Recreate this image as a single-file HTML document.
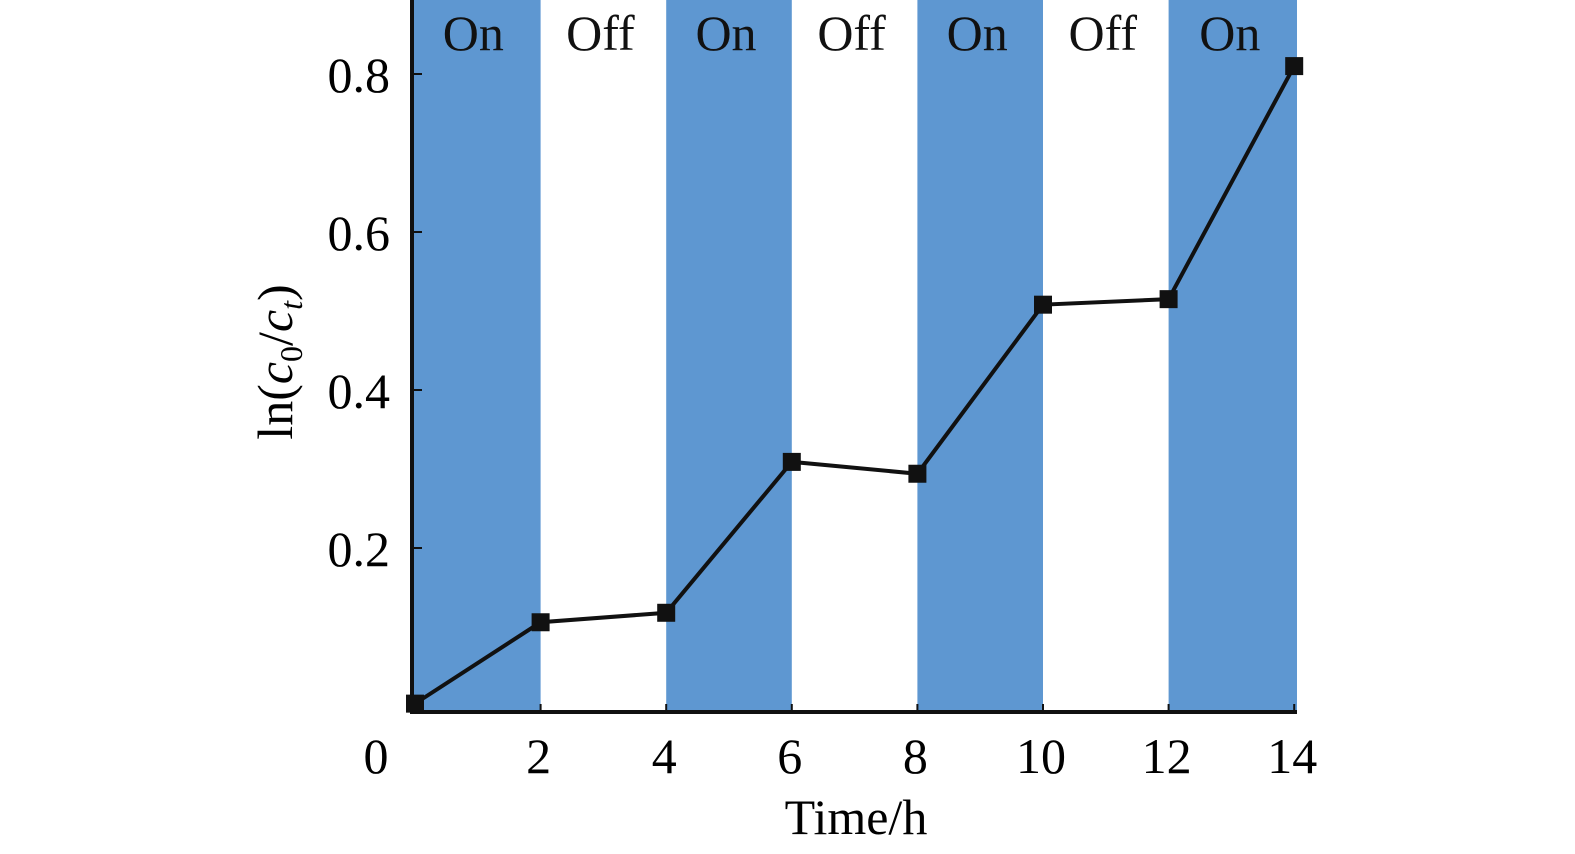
<!DOCTYPE html>
<html><head><meta charset="utf-8"><style>
html,body{margin:0;padding:0;background:#fff;}
svg{display:block;font-family:"Liberation Serif",serif;}
</style></head><body>
<svg id="chart" width="1575" height="854">
<g id="bands"></g>
<g id="axes"></g>
<g id="series"></g>
<text x="292" y="362" font-size="50" text-anchor="middle" transform="rotate(-90 292 362)">ln(<tspan font-style="italic">c</tspan><tspan font-size="32" dy="10">0</tspan><tspan dy="-10">/</tspan><tspan font-style="italic">c</tspan><tspan font-size="32" font-style="italic" dy="10">t</tspan><tspan dy="-10">)</tspan></text>
<text x="856" y="834" font-size="50" text-anchor="middle">Time/h</text>
</svg>
<script>
const times=[0,2,4,6,8,10,12,14];
const values=[0.003,0.106,0.118,0.309,0.294,0.508,0.515,0.81];
const xTicks=[0,2,4,6,8,10,12,14];
const yTicks=[0.2,0.4,0.6,0.8];
const bandStarts=[0,2,4,6,8,10,12];
const bandLabels=["On","Off","On","Off","On","Off","On"];
const NS="http://www.w3.org/2000/svg";
const X=v=>415+62.8*v;
const Y=v=>706-790*v;
function mk(tag,attrs,parent,text){const e=document.createElementNS(NS,tag);for(const k in attrs)e.setAttribute(k,attrs[k]);if(text!==undefined)e.textContent=text;parent.appendChild(e);return e;}
const bands=document.getElementById('bands'),axes=document.getElementById('axes'),series=document.getElementById('series');
bandStarts.forEach((s,i)=>{
  const x0=i===0?412:X(s), x1=i===bandStarts.length-1?1297:X(s+2);
  if(bandLabels[i]==="On"){
    const r=mk('rect',{x:x0,y:0,width:x1-x0,height:713,fill:'#5e97d1'},bands);
    
    
  }
  const t=mk('text',{x:(x0+x1)/2-3,y:50,'font-size':50,'text-anchor':'middle',fill:'#111'},bands,bandLabels[i]);
  
  
});
mk('line',{x1:412,y1:0,x2:412,y2:714,stroke:'#111','stroke-width':4},axes);
mk('line',{x1:410,y1:712,x2:1297,y2:712,stroke:'#111','stroke-width':4},axes);
xTicks.forEach(v=>{
  if(v>0) mk('line',{x1:X(v),y1:712,x2:X(v),y2:704,stroke:'#111','stroke-width':2},axes);
  const t=mk('text',{x:v===0?376:X(v)-2,y:773,'font-size':50,'text-anchor':'middle'},axes,String(v));
  
  
});
yTicks.forEach(v=>{
  mk('line',{x1:412,y1:Y(v),x2:422,y2:Y(v),stroke:'#111','stroke-width':2},axes);
  const t=mk('text',{x:390,y:Y(v)+18,'font-size':50,'text-anchor':'end'},axes,v.toFixed(1));
  
  
});
const pts=times.map((t,i)=>X(t)+','+Y(values[i])).join(' ');
const pl=mk('polyline',{points:pts,fill:'none',stroke:'#111','stroke-width':4},series);


times.forEach((t,i)=>{
  const r=mk('rect',{x:X(t)-9,y:Y(values[i])-9,width:18,height:18,fill:'#111'},series);
  
  
});
</script>
</body></html>
